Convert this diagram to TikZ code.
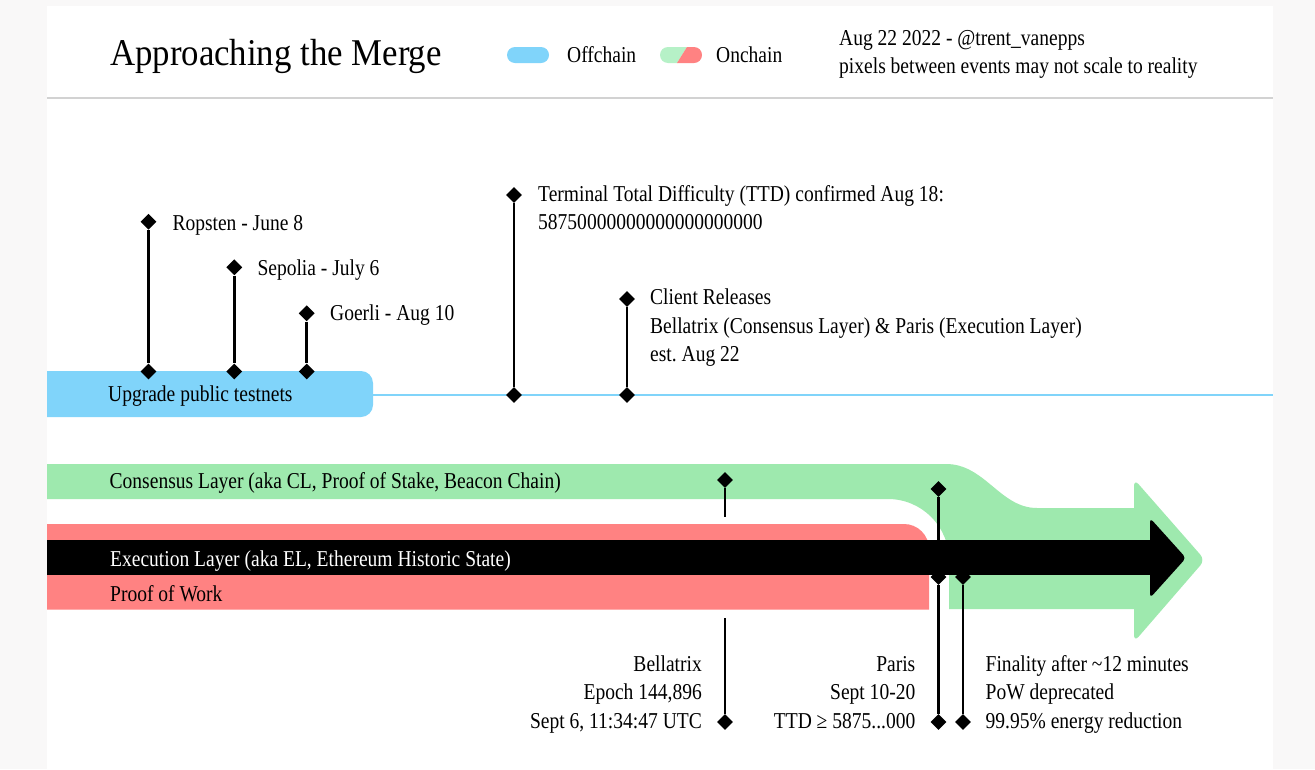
\documentclass[tikz,border=0pt]{standalone}
\usepackage{fontspec}
\setmainfont{Liberation Serif}[FakeStretch=0.86]
\newfontfamily\titlefont{Liberation Serif}[FakeStretch=0.92]
\usetikzlibrary{shapes.geometric}
\definecolor{offc}{RGB}{128,212,250}
\definecolor{clg}{RGB}{158,233,174}
\definecolor{pow}{RGB}{255,130,130}
\definecolor{legg}{RGB}{182,241,199}
\definecolor{rulec}{RGB}{210,210,210}
\definecolor{bgc}{RGB}{249,248,248}
\begin{document}
\begin{tikzpicture}[x=1pt,y=-1pt,
  lbl/.style={inner sep=0pt, font=\fontsize{22.7}{28}\selectfont, anchor=base west},
  lblr/.style={lbl, anchor=base east},
  dmd/.style={diamond, fill=black, inner sep=0pt, minimum width=16pt, minimum height=16pt},
  stem/.style={line width=2.9pt, black}]
\useasboundingbox (0,0) rectangle (1315,769);
\fill[bgc] (0,0) rectangle (1315,769);
\fill[white] (47,6) rectangle (1273,769);

% header
\node[inner sep=0pt, anchor=base west, font=\titlefont\fontsize{37.8}{40}\selectfont] (title) at (110,65) {Approaching the Merge};
\fill[offc, rounded corners=8pt] (507,47) rectangle (549,63);
\node[lbl] (offl) at (567,62) {Offchain};
\begin{scope}
  \clip[rounded corners=8pt] (660,47) rectangle (702,63);
  \fill[legg] (660,47) -- (687,47) -- (677,63) -- (660,63) -- cycle;
  \fill[pow] (687,47) -- (702,47) -- (702,63) -- (677,63) -- cycle;
\end{scope}
\node[lbl] (onl) at (716,62) {Onchain};
\node[lbl] (auth) at (839,45) {Aug 22 2022 - @trent\_vanepps};
\node[lbl] (note) at (839,73) {pixels between events may not scale to reality};
\draw[rulec, line width=2pt] (47,97.5) -- (1273,97.5);

% offchain bar
\fill[offc] (47,371) -- (361,371) .. controls (367.6,371) and (373,376.4) .. (373,383)
  -- (373,405) .. controls (373,411.6) and (367.6,417) .. (361,417) -- (47,417) -- cycle;
\draw[offc, line width=2pt] (373,395) -- (1273,395);
\node[lbl] (upg) at (108,401.5) {Upgrade public testnets};

% consensus layer (green)
\fill[clg, rounded corners=7pt] (1134,479) -- (1205,560) -- (1134,642) -- cycle;
\fill[clg] (47,464) -- (946,464) .. controls (985,464) and (1000,508) .. (1037,508)
  -- (1140,508) -- (1140,609) -- (949,609) -- (949,560)
  .. controls (949,526.3) and (921.7,499) .. (888,499) -- (47,499) -- cycle;
\node[lbl] (cll) at (109.5,488.5) {Consensus Layer (aka CL, Proof of Stake, Beacon Chain)};

% proof of work (red)
\fill[pow] (47,524) -- (904,524) .. controls (917.8,524) and (929,535.2) .. (929,549)
  -- (929,609.5) -- (47,609.5) -- cycle;

% execution layer (black)
\fill[black] (47,539.5) rectangle (1156,574.5);
\fill[black, rounded corners=4pt] (1150,518) -- (1186,558) -- (1150,598) -- cycle;
\node[lbl, text=white] (ell) at (110,566) {Execution Layer (aka EL, Ethereum Historic State)};
\node[lbl] (powl) at (110,601) {Proof of Work};

% testnet events
\node[dmd] (r1) at (148.5,221.7) {};
\node[dmd] (r2) at (148.5,371.5) {};
\draw[stem] (r1) -- (r2);
\node[lbl] (rl) at (172.3,230) {Ropsten - June 8};
\node[dmd] (s1) at (234.3,267.3) {};
\node[dmd] (s2) at (234.3,371.5) {};
\draw[stem] (s1) -- (s2);
\node[lbl] (sl) at (257.3,275.5) {Sepolia - July 6};
\node[dmd] (g1) at (306.7,313.3) {};
\node[dmd] (g2) at (306.7,371.5) {};
\draw[stem] (g1) -- (g2);
\node[lbl] (gl) at (330,320.5) {Goerli - Aug 10};

% TTD
\node[dmd] (t1) at (514,195) {};
\node[dmd] (t2) at (514,395) {};
\draw[stem] (t1) -- (t2);
\node[lbl] (tl1) at (538,201) {Terminal Total Difficulty (TTD) confirmed Aug 18:};
\node[lbl] (tl2) at (538,229.5) {58750000000000000000000};

% client releases
\node[dmd] (c1) at (627,299) {};
\node[dmd] (c2) at (627,395) {};
\draw[stem] (c1) -- (c2);
\node[lbl] (cl1) at (650,304.5) {Client Releases};
\node[lbl] (cl2) at (650,333) {Bellatrix (Consensus Layer) \& Paris (Execution Layer)};
\node[lbl] (cl3) at (650,361.5) {est.\ Aug 22};

% Bellatrix
\node[dmd] (b1) at (725,480) {};
\coordinate (b2) at (725,517);
\draw[stem] (b1) -- (b2);
\coordinate (b3) at (725,618);
\node[dmd] (b4) at (725,722) {};
\draw[stem] (b3) -- (b4);
\node[lblr] (bl1) at (702,671) {Bellatrix};
\node[lblr] (bl2) at (702,699.5) {Epoch 144,896};
\node[lblr] (bl3) at (702,728) {Sept 6, 11:34:47 UTC};

% Paris
\node[dmd] (p1) at (938.5,489) {};
\node[dmd] (p2) at (938.5,577) {};
\node[dmd] (p3) at (938.5,722) {};
\draw[stem] (p1) -- (p2);
\draw[stem] (p2) -- (p3);
\node[lblr] (pl1) at (915.5,671) {Paris};
\node[lblr] (pl2) at (915.5,699.5) {Sept 10-20};
\node[lblr] (pl3) at (915.5,728) {TTD ≥ 5875...000};

% Finality
\node[dmd] (f1) at (963,577) {};
\node[dmd] (f2) at (963,722) {};
\draw[stem] (f1) -- (f2);
\node[lbl] (fl1) at (985.5,671) {Finality after \textasciitilde12 minutes};
\node[lbl] (fl2) at (985.5,699.5) {PoW deprecated};
\node[lbl] (fl3) at (985.5,728) {99.95\% energy reduction};
\end{tikzpicture}
\end{document}
